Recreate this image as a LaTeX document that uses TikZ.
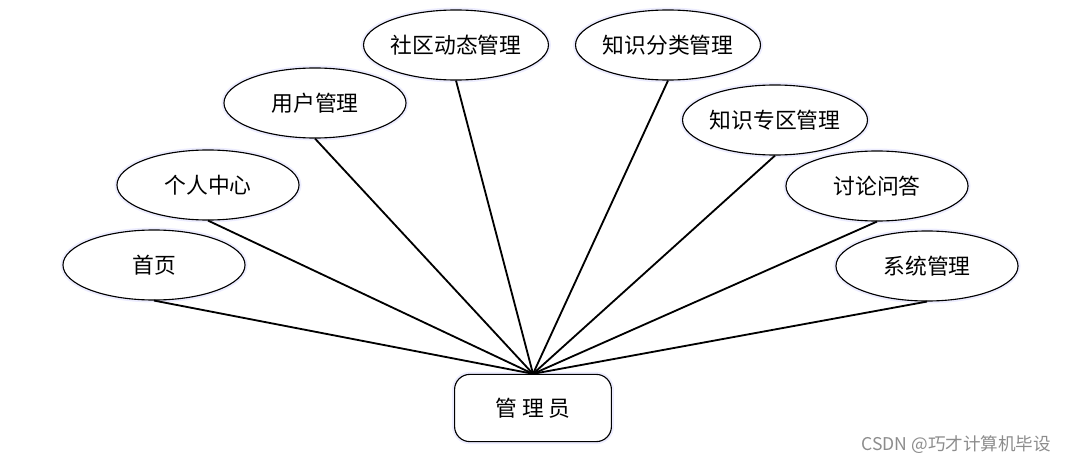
\documentclass[tikz,border=0pt]{standalone}
\usepackage{fontspec}
\newfontfamily\cjk{Noto Sans CJK SC}
\usetikzlibrary{shapes.geometric}

\begin{document}
\begin{tikzpicture}[x=0.025cm, y=-0.025cm,
    func/.style={ellipse, thick, draw=black, fill=white, preaction={draw=blue!7, line width=3.5pt},
        minimum width=4.55cm, minimum height=1.75cm, inner sep=0pt, font=\cjk\fontsize{15.5}{18}\selectfont},
    role/.style={rectangle, rounded corners=0.38cm, thick, draw=black, fill=white, preaction={draw=blue!7, line width=3.5pt},
        minimum width=3.92cm, minimum height=1.68cm, inner sep=0pt, font=\cjk\fontsize{15.5}{18}\selectfont},
    link/.style={line width=1.3pt}]
    \useasboundingbox (0,0) rectangle (1070,466);
    % the functions round the administrator
    \node[func] (shouye) at (154,265) {首页};
    \node[func] (geren) at (208,185) {个人中心};
    \node[func] (yonghu) at (315,103) {用户管理};
    \node[func] (shequ) at (456,45) {社区动态管理};
    \node[func] (fenlei) at (668,45) {知识分类管理};
    \node[func] (zhuanqu) at (775,120) {知识专区管理};
    \node[func] (taolun) at (877,186) {讨论问答};
    \node[func] (xitong) at (927,266) {系统管理};
    \node[role] (admin) at (533,408) {管 理 员};
    \foreach \n in {shouye, geren, yonghu, shequ, fenlei, zhuanqu, taolun, xitong}
        \draw[link] (\n.south) -- (admin.north);
    \node[text=black!45, font=\cjk\fontsize{12.5}{14}\selectfont, anchor=east] (mark) at (1056,445) {CSDN @巧才计算机毕设};
\end{tikzpicture}
\end{document}
